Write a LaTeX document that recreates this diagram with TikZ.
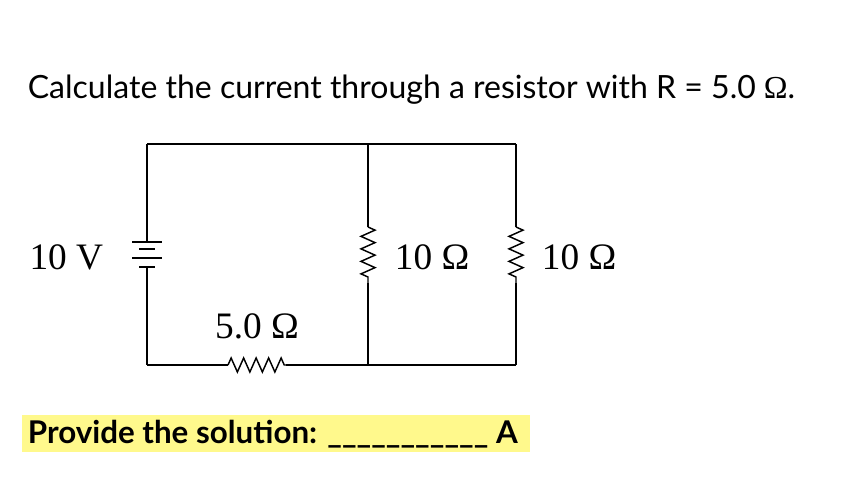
\documentclass[tikz,border=0pt]{standalone}
\usepackage{fontspec}
\setmainfont{Lato}
\newfontfamily\circfont{Liberation Serif}
\usetikzlibrary{decorations.pathmorphing,positioning}

\begin{document}
\begin{tikzpicture}[x=0.75pt, y=-0.75pt, line width=1.3pt]

\tikzstyle{wire} = [draw=black, line width=1.3pt]
\tikzstyle{res} = [decoration={zigzag, segment length=12.5*0.75pt, amplitude=7*0.75pt}, decorate, line width=1.1pt]
\tikzstyle{lbl} = [font=\circfont\fontsize{28}{32}\selectfont, inner sep=0pt]

\useasboundingbox (0,0) rectangle (852,492);

% question
\node[anchor=west, font=\fontsize{24}{28}\selectfont, inner sep=0pt] at (27,90) (question) {Calculate the current through a resistor with R = 5.0 {\circfont Ω}.};

% corners
\coordinate (tl) at (147,144);
\coordinate (tm) at (368,144);
\coordinate (tr) at (516,144);
\coordinate (bl) at (147,365);
\coordinate (bm) at (368,365);
\coordinate (br) at (516,365);

% battery
\coordinate (batp) at (147,242);
\coordinate (batn) at (147,267);
\draw[wire] (tl) -- (batp);
\draw[wire] (batn) -- (bl);
\draw (132,242) -- (162,242);
\draw (139,249) -- (155,249);
\draw (132,258) -- (162,258);
\draw (139,267) -- (155,267);
\node[lbl, anchor=east] at (104,257) (vbat) {10 V};

% resistors
\coordinate (rma) at (368,227);
\coordinate (rmb) at (368,283);
\coordinate (rra) at (516,227);
\coordinate (rrb) at (516,283);
\coordinate (rba) at (228,365);
\coordinate (rbb) at (286,365);

\draw[wire] (tl) -- (tm) -- (tr);
\draw[wire] (tm) -- (rma);
\draw[res] (rma) -- (rmb);
\draw[wire] (rmb) -- (bm);
\draw[wire] (tr) -- (rra);
\draw[res] (rra) -- (rrb);
\draw[wire] (rrb) -- (br);
\draw[wire] (bl) -- (rba);
\draw[res] (rba) -- (rbb);
\draw[wire] (rbb) -- (bm) -- (br);

\node[lbl, anchor=west] at (394,257) (rmlbl) {10 Ω};
\node[lbl, anchor=west] at (541,257) (rrlbl) {10 Ω};
\node[lbl] at (257,326) (rblbl) {5.0 Ω};

% answer line
\fill[yellow!45] (22,415) rectangle (530,452);
\node[anchor=west, font=\bfseries\fontsize{23.5}{27}\selectfont, inner sep=0pt] at (27,434) (answer) {Provide the solution: \_\_\_\_\_\_\_\_\_\_\_ A};

\end{tikzpicture}
\end{document}
